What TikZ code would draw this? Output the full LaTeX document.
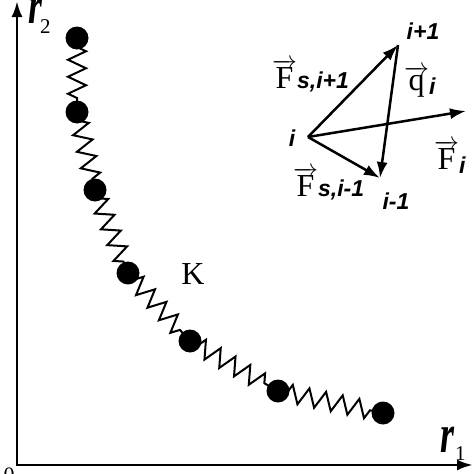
\documentclass[tikz,border=0pt]{standalone}
\usepackage{fontspec}
\setmainfont{Liberation Serif}
\setsansfont{Liberation Sans}
\usetikzlibrary{arrows.meta,decorations.pathmorphing}
\newcommand{\vsym}[1]{$\overrightarrow{\hbox{#1}}$}
\newcommand{\idxf}{\sffamily\bfseries\itshape\fontsize{23}{23}\selectfont}
\tikzset{
  ball/.style={circle,fill=black,inner sep=0pt,minimum size=23pt},
  spring/.style={line width=2pt,decorate,decoration={zigzag,segment length=17pt,amplitude=9pt,pre length=9pt,post length=9pt}},
  vec/.style={line width=2.5pt,-{Latex[length=16pt,width=11pt]}},
  axis/.style={line width=2.8pt,{Latex[length=16pt,width=11pt]}-{Latex[length=16pt,width=11pt]}},
  idx/.style={font=\idxf,inner sep=0pt},
  flab/.style={font=\fontsize{32}{32}\selectfont,inner sep=0pt},
}
\begin{document}
\begin{tikzpicture}[x=1pt,y=-1pt]
\useasboundingbox (0,0) rectangle (474,474);
\coordinate (ytop) at (17,1);
\coordinate (xend) at (473,465);
\draw[axis] (ytop) |- (xend);
\node[inner sep=0pt,anchor=north,font=\fontsize{22}{22}\selectfont] (zero) at (9,468) {0};
\node[inner sep=0pt,anchor=south west,font=\bfseries\itshape\fontsize{36}{36}\selectfont] (rtwo) at (28,24) {\scalebox{1}[1.5]{r}};
\node[inner sep=0pt,anchor=south west,font=\fontsize{21}{21}\selectfont] (rtwos) at (40,34) {2};
\node[inner sep=0pt,anchor=south west,font=\bfseries\itshape\fontsize{36}{36}\selectfont] (rone) at (440,453) {\scalebox{1}[1.5]{r}};
\node[inner sep=0pt,anchor=south west,font=\fontsize{21}{21}\selectfont] (rones) at (455,461) {1};
% chain of beads
\node[ball] (b1) at (77,38) {};
\node[ball] (b2) at (77,112) {};
\node[ball] (b3) at (95,190) {};
\node[ball] (b4) at (128,273) {};
\node[ball] (b5) at (190,341) {};
\node[ball] (b6) at (278,391) {};
\node[ball] (b7) at (383,413) {};
\draw[spring] (b1.center) -- (b2.center);
\draw[spring] (b2.center) -- (b3.center);
\draw[spring] (b3.center) -- (b4.center);
\draw[spring] (b4.center) -- (b5.center);
\draw[spring] (b5.center) -- (b6.center);
\draw[spring] (b6.center) -- (b7.center);
\node[flab] (k) at (193,274) {K};
% forces on bead i
\coordinate (pi) at (308,137);
\coordinate (pp) at (398,45);
\coordinate (pm) at (380,178);
\coordinate (pf) at (466,111);
\draw[vec] (pi) -- (pp);
\draw[vec] (pi) -- (pm);
\draw[vec] (pp) -- (pm);
\draw[vec] (pi) -- (pf);
\node[idx] (li) at (292,138) {i};
\node[idx] (lip) at (423,31) {i+1};
\node[idx] (lim) at (396,201) {i-1};
\node[flab,anchor=base west] (lfp) at (272,88) {\vsym{F}{\idxf s,i+1}};
\node[flab,anchor=base west] (lfm) at (293,196) {\vsym{F}{\idxf s,i-1}};
\node[flab,anchor=base west] (lf) at (434,169) {\vsym{F}\raisebox{-4pt}{\idxf i}};
\node[flab,anchor=base west] (lq) at (404,90) {\vsym{q}\raisebox{-4pt}{\idxf i}};
\end{tikzpicture}
\end{document}
